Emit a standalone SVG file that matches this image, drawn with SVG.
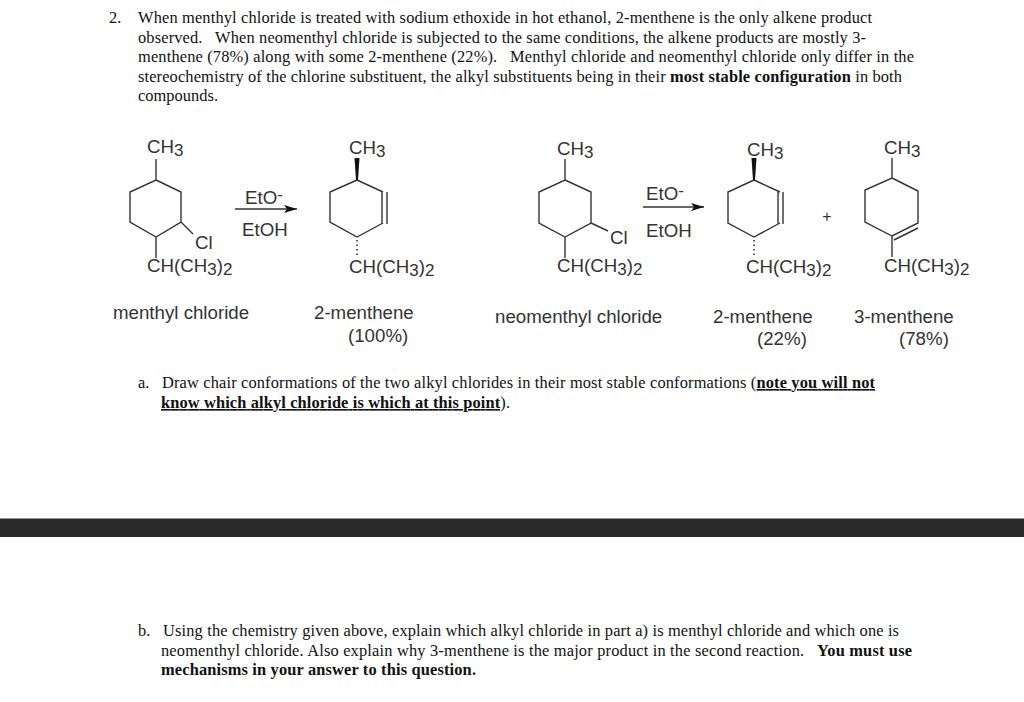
<svg xmlns="http://www.w3.org/2000/svg" width="1024" height="702" viewBox="0 0 1024 702">
<style>
.t{font-family:"Liberation Serif","Times New Roman",serif;font-size:16.4px;fill:#111;white-space:pre}
.b{font-weight:bold}
.u{text-decoration:underline}
.c{font-family:"Liberation Sans",Arial,sans-serif;font-size:18.7px;fill:#333}
.s{font-size:17px}
.l{fill:none;stroke:#333;stroke-width:1.4}
.d{fill:none;stroke:#333;stroke-width:1.6;stroke-dasharray:1.5 3}
.w{fill:#111}
</style>
<defs>
<marker id="ah" markerWidth="14" markerHeight="10" refX="13" refY="5" orient="auto" markerUnits="userSpaceOnUse"><path d="M0 1L13 5L0 9L3 5Z" fill="#111"/></marker>
</defs>
<rect width="1024" height="702" fill="#fff"/>
<g id="question-a-text">
<text class="t" x="109" y="23">2.</text>
<text class="t" x="138" y="23" textLength="734">When menthyl chloride is treated with sodium ethoxide in hot ethanol, 2-menthene is the only alkene product</text>
<text class="t" x="138" y="43" textLength="728">observed.   When neomenthyl chloride is subjected to the same conditions, the alkene products are mostly 3-</text>
<text class="t" x="138" y="62" textLength="776">menthene (78%) along with some 2-menthene (22%).   Menthyl chloride and neomenthyl chloride only differ in the</text>
<text class="t" x="138" y="82" textLength="764">stereochemistry of the chlorine substituent, the alkyl substituents being in their <tspan class="b">most stable configuration</tspan> in both</text>
<text class="t" x="138" y="101" textLength="80">compounds.</text>
<text class="t" x="138" y="388">a.</text>
<text class="t" x="162" y="388" textLength="713">Draw chair conformations of the two alkyl chlorides in their most stable conformations (<tspan class="b u">note you will not</tspan></text>
<text class="t" x="161" y="408" textLength="349"><tspan class="b u">know which alkyl chloride is which at this point</tspan>).</text>
</g>
<g id="menthyl-chloride">
<path class="l" d="M156 180L181 192V222L156 237L130 222V192ZM156 180V159M156 237V258M181 222L193 234"/>
<text class="c" x="147" y="153">CH<tspan class="s" dy="3">3</tspan></text>
<text class="c" x="195" y="249">Cl</text>
<text class="c" x="147" y="272">CH(CH<tspan class="s" dy="3">3</tspan><tspan dy="-3">)</tspan><tspan class="s" dy="3">2</tspan></text>
<text class="c" x="113" y="319">menthyl chloride</text>
</g>
<g id="menthene-2-a">
<path class="l" d="M357 180L383 192M382 192V224M387 192V224M383 223L357 237L330 222V192L357 180"/>
<path class="w" d="M354.500 158H359.500L358 180H356Z"/>
<path class="d" d="M357 240V258"/>
<text class="c" x="349" y="154">CH<tspan class="s" dy="3">3</tspan></text>
<text class="c" x="349" y="273">CH(CH<tspan class="s" dy="3">3</tspan><tspan dy="-3">)</tspan><tspan class="s" dy="3">2</tspan></text>
<text class="c" x="314" y="319">2-menthene</text>
<text class="c" x="348" y="342">(100%)</text>
</g>
<g id="neomenthyl-chloride">
<path class="l" d="M565 180L591 192V223L565 237L539 223V192ZM565 180V159M565 237V258M591 223L608 231"/>
<text class="c" x="557" y="155">CH<tspan class="s" dy="3">3</tspan></text>
<text class="c" x="610" y="244">Cl</text>
<text class="c" x="557" y="272">CH(CH<tspan class="s" dy="3">3</tspan><tspan dy="-3">)</tspan><tspan class="s" dy="3">2</tspan></text>
<text class="c" x="495" y="323">neomenthyl chloride</text>
</g>
<g id="menthene-2-b">
<path class="l" d="M754 180L780 192M778 192V224M783 192V224M780 223L754 237L728 223V192L754 180"/>
<path class="w" d="M751.500 158H756.500L755 180H753Z"/>
<path class="d" d="M754 240V258"/>
<text class="c" x="747" y="156">CH<tspan class="s" dy="3">3</tspan></text>
<text class="c" x="746" y="273">CH(CH<tspan class="s" dy="3">3</tspan><tspan dy="-3">)</tspan><tspan class="s" dy="3">2</tspan></text>
<text class="c" x="713" y="323">2-menthene</text>
<text class="c" x="757" y="345">(22%)</text>
</g>
<g id="plus"><text class="c" x="827" y="222" text-anchor="middle" style="font-size:16px">+</text></g>
<g id="menthene-3">
<path class="l" d="M892 178L918 191V223L892 236L865 222V190ZM892 178V158M892 236V257M894 240L918 228"/>
<text class="c" x="884" y="154">CH<tspan class="s" dy="3">3</tspan></text>
<text class="c" x="884" y="272">CH(CH<tspan class="s" dy="3">3</tspan><tspan dy="-3">)</tspan><tspan class="s" dy="3">2</tspan></text>
<text class="c" x="854" y="323">3-menthene</text>
<text class="c" x="899" y="345">(78%)</text>
</g>
<g id="connectors">
<path class="l" d="M235 209H297" marker-end="url(#ah)"/>
<path class="l" d="M643 207H704" marker-end="url(#ah)"/>
</g>
<g id="reagents">
<text class="c" x="245" y="204">EtO<tspan class="s" dy="-4">-</tspan></text>
<text class="c" x="242" y="236">EtOH</text>
<text class="c" x="646" y="200">EtO<tspan class="s" dy="-4">-</tspan></text>
<text class="c" x="646" y="237">EtOH</text>
</g>
<rect id="band" x="0" y="518.500" width="1024" height="18.500" fill="#2a2a2a"/>
<g id="question-b-text">
<text class="t" x="138" y="636">b.</text>
<text class="t" x="163" y="636" textLength="736">Using the chemistry given above, explain which alkyl chloride in part a) is menthyl chloride and which one is</text>
<text class="t" x="161" y="656" textLength="751">neomenthyl chloride. Also explain why 3-menthene is the major product in the second reaction.   <tspan class="b">You must use</tspan></text>
<text class="t b" x="161" y="675" textLength="315">mechanisms in your answer to this question.</text>
</g>
</svg>
